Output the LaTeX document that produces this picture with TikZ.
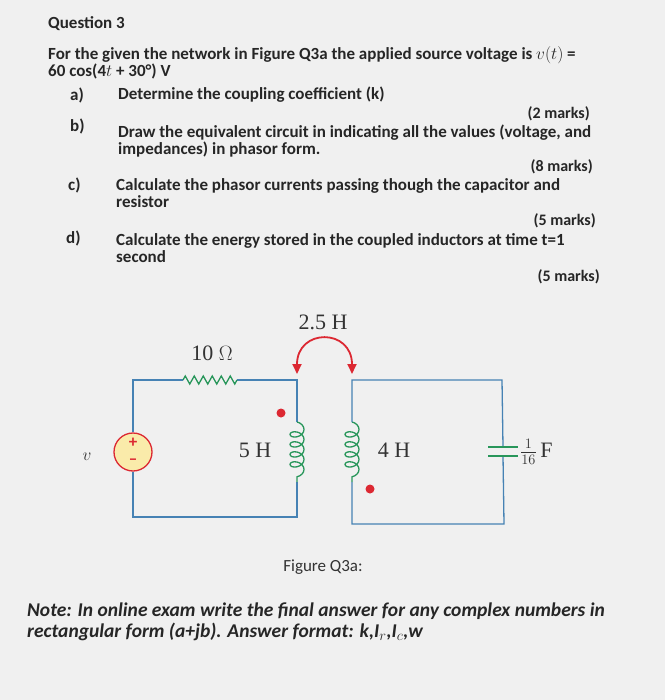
\documentclass[tikz,border=0pt]{standalone}
\usepackage{fontspec}
\setmainfont{Carlito}
\newfontfamily\serifc{Liberation Serif}
\usetikzlibrary{decorations.pathmorphing,arrows.meta,calc}
\definecolor{wireblue}{RGB}{70,130,180}
\definecolor{cgreen}{RGB}{40,150,90}
\definecolor{cred}{RGB}{220,40,50}
\definecolor{cyel}{RGB}{250,235,170}
\begin{document}
\begin{tikzpicture}[x=1pt,y=-1pt,
  txt/.style={anchor=west,inner sep=0,font=\fontsize{17}{18}\selectfont\bfseries,text=black!85},
  mk/.style={anchor=east,inner sep=0,font=\fontsize{16}{18}\selectfont\bfseries,text=black!85},
  wire/.style={draw=wireblue,line width=1.3pt},
  grn/.style={draw=cgreen,line width=1.3pt},
  lab/.style={inner sep=0,font=\serifc\fontsize{22}{22}\selectfont,text=black!80},
  dotc/.style={fill=cred}]
\fill[black!6] (0,0) rectangle (665,700);
\useasboundingbox (0,0) rectangle (665,700);
\node[txt] (q) at (48,24) {Question 3};
\node[txt] (p1) at (48,55) {For the given the network in Figure Q3a the applied source voltage is $v(t)$ =};
\node[txt] (p2) at (48,71) {60 cos(4$t$ + 30°) V};
\node[txt] (a) at (70,95) {a)};
\node[txt] (at) at (118,95) {Determine the coupling coefficient (k)};
\node[mk] (m1) at (590,114) {(2 marks)};
\node[txt] (b) at (70,126) {b)};
\node[txt] (bt) at (118,133) {Draw the equivalent circuit in indicating all the values (voltage, and};
\node[txt] (bt2) at (118,150) {impedances) in phasor form.};
\node[mk] (m2) at (593,167) {(8 marks)};
\node[txt] (c) at (68,185) {c)};
\node[txt] (ct) at (116,186) {Calculate the phasor currents passing though the capacitor and};
\node[txt] (ct2) at (116,202) {resistor};
\node[mk] (m3) at (596,221) {(5 marks)};
\node[txt] (d) at (66,238) {d)};
\node[txt] (dt) at (116,241) {Calculate the energy stored in the coupled inductors at time t=1};
\node[txt] (dt2) at (116,257) {second};
\node[mk] (m4) at (600,277) {(5 marks)};
% circuit
\coordinate (tl) at (133,380); \coordinate (r1) at (183,380); \coordinate (r2) at (237,380);
\coordinate (l1t) at (297,380); \coordinate (l1a) at (297,422); \coordinate (l1b) at (297,482);
\coordinate (l1bot) at (297,517); \coordinate (bl) at (133,517);
\coordinate (l2t) at (352,380); \coordinate (l2a) at (352,422); \coordinate (l2b) at (352,482);
\coordinate (l2bot) at (352,524); \coordinate (tr) at (502,380); \coordinate (br) at (504,524);
\coordinate (c1) at (503,447); \coordinate (c2) at (503,456);
\node[circle,draw=cred,line width=1.3pt,fill=cyel,minimum size=38pt,inner sep=0] (src) at (133,452) {};
\node[inner sep=0,font=\bfseries\fontsize{17}{17}\selectfont,text=cred] at (133,443) {+};
\node[inner sep=0,font=\bfseries\fontsize{17}{17}\selectfont,text=cred] at (133,462) {--};
\draw[wire] (src.north) -- (tl) -- (r1);
\draw[wire] (r2) -- (l1t) -- (l1a);
\draw[wire] (l1b) -- (l1bot) -- (bl) -- (src.south);
\draw[grn,decorate,decoration={zigzag,segment length=9pt,amplitude=4pt}] (r1) -- (r2);
\draw[grn,decorate,decoration={coil,aspect=0.7,segment length=10pt,amplitude=7pt}] (l1a) -- (l1b);
\draw[grn,decorate,decoration={coil,aspect=0.7,segment length=10pt,amplitude=7pt}] (l2a) -- (l2b);
\draw[wire] (l2a) -- (l2t) -- (tr) -- (c1);
\draw[wire] (c2) -- (br) -- (l2bot) -- (l2b);
\draw[grn] ($(c1)+(-15,0)$) -- ($(c1)+(15,0)$);
\draw[grn] ($(c2)+(-15,0)$) -- ($(c2)+(15,0)$);
\fill[dotc] (281,413) circle (4.5);
\fill[dotc] (370,489) circle (4.5);
\coordinate (aL) at (297,374); \coordinate (aR) at (352,374);
\draw[cred,line width=1.8pt,{Triangle[width=9pt,length=10pt]}-{Triangle[width=9pt,length=10pt]}] (aL) .. controls (297,328) and (352,328) .. (aR);
\node[lab] (l25) at (323,322) {2.5 H};
\node[lab] (l10) at (212,353) {10 $\Omega$};
\node[lab] (l5) at (255,450) {5 H};
\node[lab] (l4) at (394,450) {4 H};
\node[lab,anchor=west] (lc) at (520,452) {$\frac{1}{16}$\,F};
\node[lab,font=\serifc\itshape\fontsize{18}{18}\selectfont] (lv) at (87,457) {$v$};
\node[lab,font=\fontsize{17}{17}\selectfont] (fig) at (323,567) {Figure Q3a:};
\node[txt,font=\fontsize{19.5}{20}\selectfont\bfseries\itshape] (n1) at (27,611) {Note: In online exam write the final answer for any complex numbers in};
\node[txt,font=\fontsize{19.5}{20}\selectfont\bfseries\itshape] (n2) at (27,632) {rectangular form (a+jb). Answer format: k,I$_r$,I$_c$,w};
\end{tikzpicture}
\end{document}
